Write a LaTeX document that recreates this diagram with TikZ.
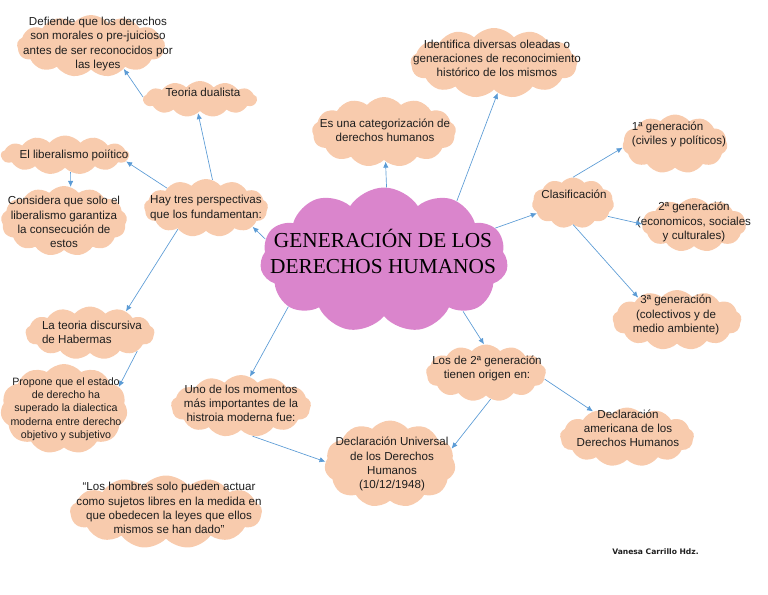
\documentclass[tikz,border=0pt]{standalone}
\usepackage{fontspec}
\setmainfont{Liberation Sans}
\newfontfamily\titulofont{Liberation Serif}
\newfontfamily\firmafont{DejaVu Sans}
\usetikzlibrary{shapes.symbols, arrows.meta}
\definecolor{nubecolor}{RGB}{248,203,173}
\definecolor{centrocolor}{RGB}{218,133,204}
\definecolor{flechacolor}{RGB}{91,155,213}
\definecolor{textocolor}{RGB}{30,30,30}
\tikzset{
    nube/.style 2 args={cloud, cloud puffs=13, cloud puff arc=100, cloud ignores aspect, fill=nubecolor, inner sep=0pt,
        minimum width=#1*0.75pt, minimum height=#2*0.75pt},
    texto/.style={align=center, inner sep=0pt, text=textocolor, font=\fontsize{8.7}{10.6}\selectfont},
    flecha/.style={draw=flechacolor, line width=0.5pt, -{Latex[length=4.5pt, width=4pt]}}
}

\begin{document}
\begin{tikzpicture}[x=0.75pt, y=-0.75pt]
    \useasboundingbox (0, 0) rectangle (768, 594);
    % Centro
    \node[nube={248}{145}, cloud puffs=11, cloud puff arc=115, fill=centrocolor] (centro) at (384, 260) {};
    \node[align=center, inner sep=0pt, font=\titulofont\fontsize{16}{19.5}\selectfont] (centrotxt) at (383, 251)
        {GENERACIÓN DE LOS\\DERECHOS HUMANOS};

    % Izquierda
    \node[nube={124}{58}] (perspectivas) at (206, 208) {};
    \node[texto] (perspectivastxt) at (206, 208) {Hay tres perspectivas\\que los fundamentan:};
    \node[nube={114}{36}] (dualista) at (200, 99) {};
    \node[texto] (dualistatxt) at (203, 92) {Teoria dualista};
    \node[nube={148}{62}] (defiende) at (91, 46) {};
    \node[texto] (defiendetxt) at (98, 44)
        {Defiende que los derechos\\son morales o pre-juicioso\\antes de ser reconocidos por\\las leyes};
    \node[nube={128}{39}] (liberalismo) at (65, 155) {};
    \node[texto] (liberalismotxt) at (74, 155) {El liberalismo poiítico};
    \node[nube={126}{70}] (considera) at (64, 221) {};
    \node[texto] (consideratxt) at (64, 222)
        {Considera que solo el\\liberalismo garantiza\\la consecución de\\estos};
    \node[nube={129}{53}] (discursiva) at (90, 333) {};
    \node[texto, align=left] (discursivatxt) at (92, 332) {La teoria discursiva\\de Habermas};
    \node[nube={127}{90}, cloud puffs=11] (propone) at (64, 409) {};
    \node[texto, font=\fontsize{8}{10}\selectfont] (proponetxt) at (66, 409)
        {Propone que el estado\\de derecho ha\\superado la dialectica\\moderna entre derecho\\objetivo y subjetivo};

    % Arriba
    \node[nube={144}{70}] (categoria) at (384, 132) {};
    \node[texto] (categoriatxt) at (385, 130) {Es una categorización de\\derechos humanos};
    \node[nube={167}{70}] (oleadas) at (494, 63) {};
    \node[texto] (oleadastxt) at (497, 58)
        {Identifica diversas oleadas o\\generaciones de reconocimiento\\histórico de los mismos};

    % Derecha
    \node[nube={82}{51}, cloud puffs=11] (clasificacion) at (573, 203) {};
    \node[texto] (clasificaciontxt) at (574, 194) {Clasificación};
    \node[nube={105}{59}, cloud puffs=11] (primera) at (675, 144) {};
    \node[texto, align=left] (primeratxt) at (679, 134) {1ª generación\\(civiles y políticos)};
    \node[nube={104}{54}, cloud puffs=11] (segunda) at (694, 225) {};
    \node[texto] (segundatxt) at (694, 222) {2ª generación\\(economicos, sociales\\y culturales)};
    \node[nube={129}{60}] (tercera) at (677, 320) {};
    \node[texto] (terceratxt) at (676, 315) {3ª generación\\(colectivos y de\\medio ambiente)};

    % Abajo
    \node[nube={120}{57}] (origen) at (486, 373) {};
    \node[texto] (origentxt) at (487, 368) {Los de 2ª generación\\tienen origen en:};
    \node[nube={134}{59}] (americana) at (627, 437) {};
    \node[texto] (americanatxt) at (628, 428) {Declaración\\americana de los\\Derechos Humanos};
    \node[nube={131}{87}, cloud puffs=11] (universal) at (390, 464) {};
    \node[texto] (universaltxt) at (392, 464) {Declaración Universal\\de los Derechos\\Humanos\\(10/12/1948)};
    \node[nube={140}{62}] (momentos) at (241, 406) {};
    \node[texto] (momentostxt) at (241, 403) {Uno de los momentos\\más importantes de la\\histroia moderna fue:};
    \node[nube={192}{73}] (hombres) at (166, 512) {};
    \node[texto] (hombrestxt) at (169, 508)
        {“Los hombres solo pueden actuar\\como sujetos libres en la medida en\\que obedecen la leyes que ellos\\mismos se han dado”};

    \node[inner sep=0pt, text=textocolor, font=\firmafont\bfseries\fontsize{5.7}{7}\selectfont] (firma) at (655.5, 552) {Vanesa Carrillo Hdz.};

    % Flechas
    \draw[flecha] (centro.170) -- (perspectivas.-22);
    \draw[flecha] (perspectivas.77) -- (dualista.-98);
    \draw[flecha] (dualista.178) -- (defiende.-35);
    \draw[flecha] (perspectivas.153) -- (liberalismo.-6);
    \draw[flecha] (liberalismo.-72) -- (considera.79);
    \draw[flecha] (perspectivas.217) -- (discursiva.31);
    \draw[flecha] (discursiva.-21) -- (propone.22);
    \draw[flecha] (centro.88) -- (categoria.-87);
    \draw[flecha] (centro.39) -- (oleadas.-83);
    \draw[flecha] (centro.16) -- (clasificacion.196);
    \draw[flecha] (clasificacion.90) -- (primera.184);
    \draw[flecha] (clasificacion.-21) -- (segunda.179);
    \draw[flecha] (clasificacion.-90) -- (tercera.150);
    \draw[flecha] (centro.206) -- (momentos.73);
    \draw[flecha] (centro.-33) -- (origen.94);
    \draw[flecha] (origen.-80) -- (universal.14);
    \draw[flecha] (origen.-6) -- (americana.143);
    \draw[flecha] (momentos.-69) -- (universal.178);
\end{tikzpicture}
\end{document}
